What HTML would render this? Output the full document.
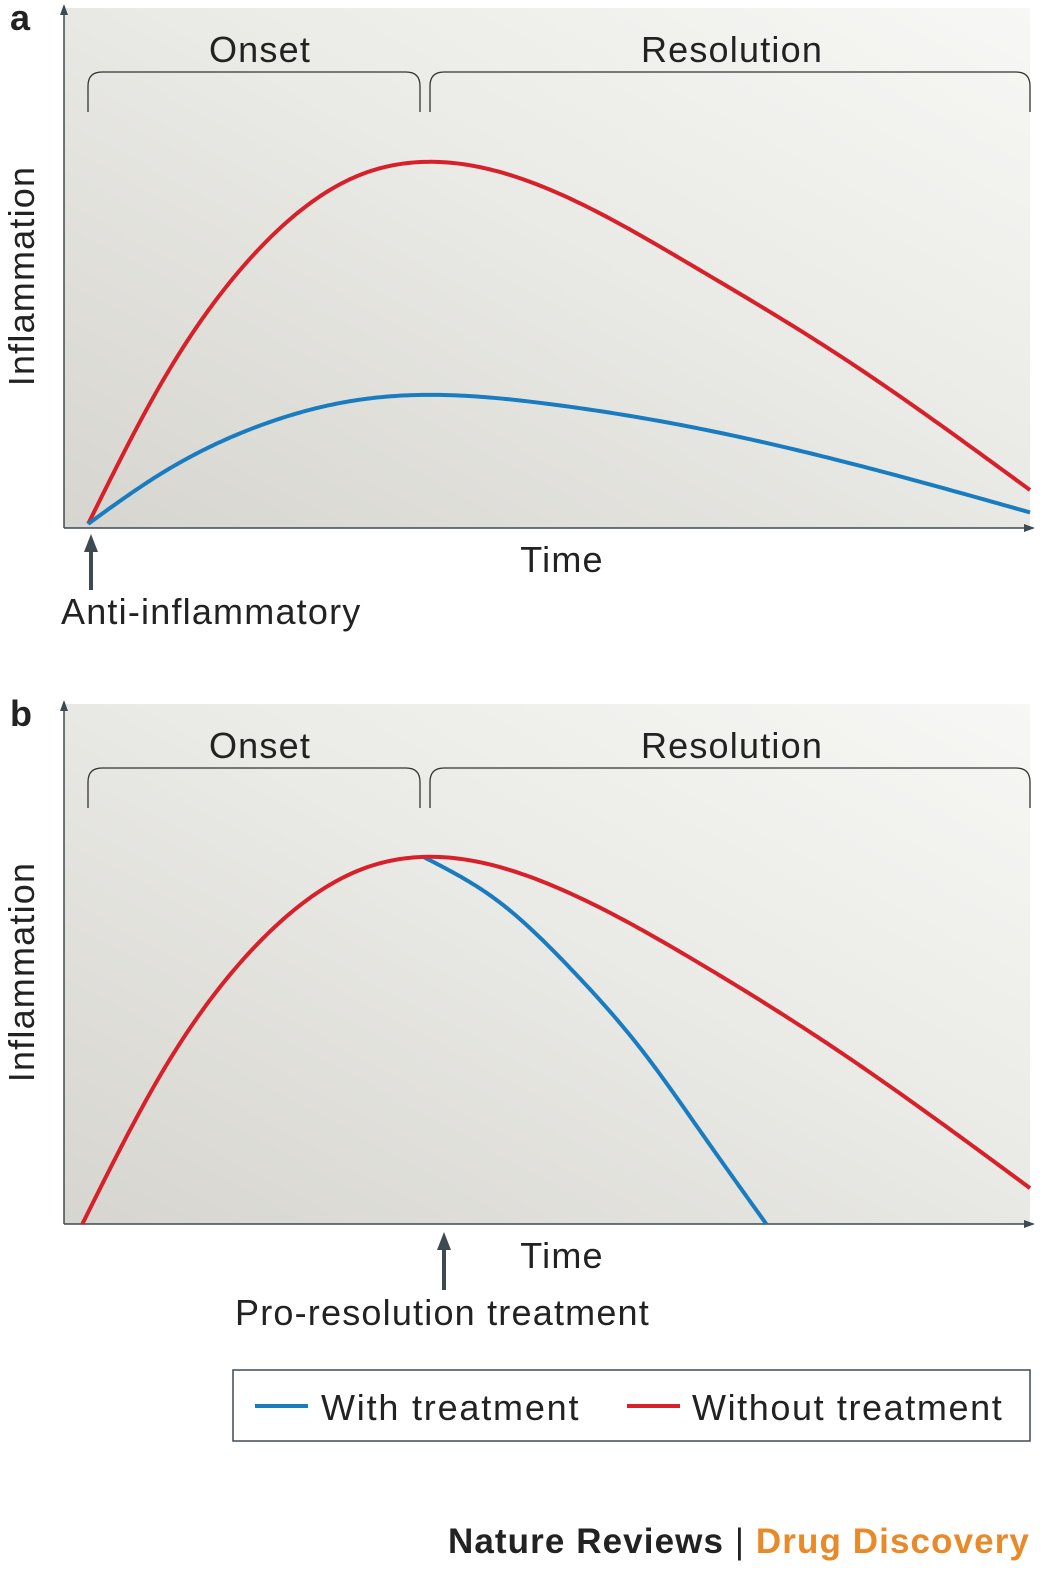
<!DOCTYPE html>
<html><head><meta charset="utf-8"><style>
html,body{margin:0;padding:0;background:#fff;}
svg{display:block;font-family:"Liberation Sans",sans-serif;}
text{letter-spacing:1.2px;}
</style></head><body>
<svg id="fig" width="1050" height="1584" viewBox="0 0 1050 1584">
<defs>
<linearGradient id="bg" x1="0" y1="1" x2="1" y2="0">
<stop offset="0" stop-color="#d6d5cf"/><stop offset="0.55" stop-color="#eaeae6"/><stop offset="1" stop-color="#f7f7f5"/>
</linearGradient>
<marker id="ah" markerWidth="12" markerHeight="12" refX="9" refY="6" orient="auto" markerUnits="userSpaceOnUse"><path d="M0,2 L11,6 L0,10 Z" fill="#3d4a52"/></marker>
<marker id="bh" markerWidth="20" markerHeight="20" refX="4" refY="10" orient="auto" markerUnits="userSpaceOnUse"><path d="M0,3 L18,10 L0,17 Z" fill="#3d4a52"/></marker>
</defs>
<g id="panelA"></g>
<g id="panelB"></g>
<g>
<rect x="233" y="1370" width="797" height="71" fill="#fff" stroke="#3d4a52" stroke-width="1.5"/>
<line x1="255" y1="1406" x2="308" y2="1406" stroke="#1a7cc0" stroke-width="4"/>
<text x="321" y="1420" font-size="36" fill="#222" style="letter-spacing:1.8px">With treatment</text>
<line x1="627" y1="1406" x2="680" y2="1406" stroke="#d7202a" stroke-width="4"/>
<text x="692" y="1420" font-size="36" fill="#222" style="letter-spacing:1.6px">Without treatment</text>
</g>
<text x="1030" y="1553" text-anchor="end" font-size="35" font-weight="bold" fill="#222" style="letter-spacing:1.1px">Nature Reviews <tspan font-weight="normal">|</tspan> <tspan fill="#e8892a">Drug Discovery</tspan></text>
</svg>
<script>
// Panel a data (time 0-100, inflammation 0-100)
const aRedT = [2.5, 10, 20, 30, 37.2, 50, 65, 80, 100];
const aRedV = [0.8, 27.6, 53.3, 67.4, 70.4, 65.3, 50.5, 33.5, 7.3];
const aBlueT = [2.5, 10, 20, 30, 37.2, 50, 65, 80, 100];
const aBlueV = [0.8, 10.4, 19.5, 24.5, 25.6, 23.9, 19.4, 13.1, 3.0];
// Panel b data
const bRedT = [1.9, 10, 20, 30, 37.2, 50, 65, 80, 100];
const bRedV = [0, 28.7, 53.8, 67.6, 70.6, 65.5, 51, 33.5, 6.9];
const bBlueT = [37.2, 45, 52.5, 60, 66, 72.7];
const bBlueV = [70.6, 62, 49, 33, 17.5, 0];

const NS = "http://www.w3.org/2000/svg";
function mk(parent, tag, attrs, text){
  const e = document.createElementNS(NS, tag);
  for (const k in attrs) e.setAttribute(k, attrs[k]);
  if (text !== undefined) e.textContent = text;
  parent.appendChild(e);
  return e;
}
function xScale(t){ return 64 + t * 9.66; }
// natural cubic spline through (xs, ys), sampled densely
function splinePath(xs, ys){
  const n = xs.length;
  const h = [], a = [], l = [1], mu = [0], z = [0], c = new Array(n).fill(0), b = [], d = [];
  for (let i = 0; i < n-1; i++) h[i] = xs[i+1]-xs[i];
  for (let i = 1; i < n-1; i++) a[i] = 3/h[i]*(ys[i+1]-ys[i]) - 3/h[i-1]*(ys[i]-ys[i-1]);
  for (let i = 1; i < n-1; i++){
    l[i] = 2*(xs[i+1]-xs[i-1]) - h[i-1]*mu[i-1];
    mu[i] = h[i]/l[i];
    z[i] = (a[i]-h[i-1]*z[i-1])/l[i];
  }
  for (let j = n-2; j >= 0; j--){
    c[j] = (j === 0) ? 0 : (z[j] - mu[j]*c[j+1]);
  }
  for (let j = 0; j < n-1; j++){
    b[j] = (ys[j+1]-ys[j])/h[j] - h[j]*(c[j+1]+2*c[j])/3;
    d[j] = (c[j+1]-c[j])/(3*h[j]);
  }
  let dstr = "";
  for (let j = 0; j < n-1; j++){
    const steps = 30;
    for (let k = 0; k <= steps; k++){
      if (j > 0 && k === 0) continue;
      const dx = h[j]*k/steps;
      const x = xs[j] + dx;
      const y = ys[j] + b[j]*dx + c[j]*dx*dx + d[j]*dx*dx*dx;
      dstr += (dstr ? " L" : "M") + x.toFixed(2) + "," + y.toFixed(2);
    }
  }
  return dstr;
}
function bracket(g, x1, x2, y, name){
  const r = 14, h = 40;
  const p = mk(g, "path", {d:`M${x1},${y+h} L${x1},${y+r} Q${x1},${y} ${x1+r},${y} L${x2-r},${y} Q${x2},${y} ${x2},${y+r} L${x2},${y+h}`, fill:"none", stroke:"#333", "stroke-width":1.3});
  
  
}
function panel(g, top, label, series){
  const base = top + 520;
  function yScale(v){ return base - v * 5.2; }
  const bg = mk(g, "rect", {x:64, y:top, width:966, height:520, fill:"url(#bg)"});
  
  
  const ya = mk(g, "line", {x1:64, y1:base, x2:64, y2:top-2, stroke:"#3d4a52", "stroke-width":1.5, "marker-end":"url(#ah)"});
  
  
  const xa = mk(g, "line", {x1:64, y1:base, x2:1033, y2:base, stroke:"#3d4a52", "stroke-width":1.5, "marker-end":"url(#ah)"});
  
  
  const pl = mk(g, "text", {x:10, y:top+22, "font-size":36, "font-weight":"bold", fill:"#222"}, label);
  
  
  const yl = mk(g, "text", {x:0, y:0, "font-size":36, fill:"#222", "text-anchor":"middle", transform:`translate(34,${top+268}) rotate(-90)`}, "Inflammation");
  
  
  const xl = mk(g, "text", {x:562, y:base+44, "font-size":36, fill:"#222", "text-anchor":"middle"}, "Time");
  
  
  const on = mk(g, "text", {x:260, y:top+54, "font-size":36, fill:"#222", "text-anchor":"middle"}, "Onset");
  
  
  const rs = mk(g, "text", {x:732, y:top+54, "font-size":36, fill:"#222", "text-anchor":"middle"}, "Resolution");
  
  
  bracket(g, 88, 420, top+64, 'onset-bracket');
  bracket(g, 430, 1030, top+64, 'resolution-bracket');
  series.forEach(s => {
    const xs = s.t.map(xScale), ys = s.v.map(yScale);
    const p = mk(g, "path", {d:splinePath(xs, ys), fill:"none", stroke:s.color, "stroke-width":4, "stroke-linejoin":"round"});
    
    
  });
}
const gA = document.getElementById("panelA");
panel(gA, 8, "a", [
  {t:aRedT, v:aRedV, color:"#d7202a", name:"line-without-treatment-a"},
  {t:aBlueT, v:aBlueV, color:"#1a7cc0", name:"line-with-treatment-a"}
]);
const arA = mk(gA, "line", {x1:91, y1:590, x2:91, y2:548, stroke:"#3d4a52", "stroke-width":4, "marker-end":"url(#bh)"});


const tA = mk(gA, "text", {x:61, y:624, "font-size":36, fill:"#222"}, "Anti-inflammatory");



const gB = document.getElementById("panelB");
panel(gB, 704, "b", [
  {t:bBlueT, v:bBlueV, color:"#1a7cc0", name:"line-with-treatment-b"},
  {t:bRedT, v:bRedV, color:"#d7202a", name:"line-without-treatment-b"}
]);
const arB = mk(gB, "line", {x1:444, y1:1290, x2:444, y2:1246, stroke:"#3d4a52", "stroke-width":4, "marker-end":"url(#bh)"});


const tB = mk(gB, "text", {x:235, y:1325, "font-size":36, fill:"#222"}, "Pro-resolution treatment");


</script>
</body></html>
